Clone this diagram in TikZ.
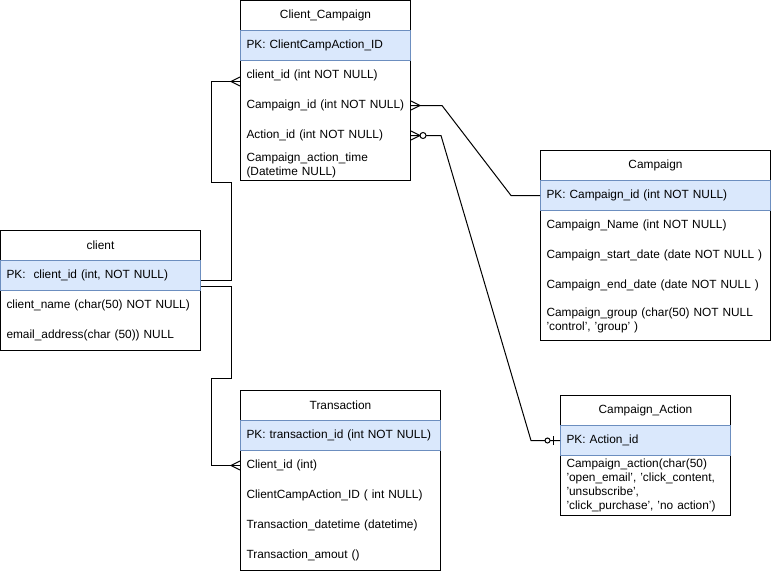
\documentclass[tikz,border=0pt]{standalone}
\usepackage{fontspec}
\setmainfont{Liberation Sans}
\usetikzlibrary{calc,positioning}
\definecolor{chiavefill}{RGB}{218,232,252}
\definecolor{chiaveline}{RGB}{108,142,191}

\begin{document}
\begin{tikzpicture}[x=0.75pt, y=-0.75pt, line width=0.75pt, font=\fontsize{8.9}{10.5}\selectfont,
  tabella/.style={draw, anchor=north west, inner sep=0pt},
  testa/.style={anchor=north west, minimum height=22.5pt, inner sep=0pt},
  riga/.style={anchor=north west, minimum height=22.5pt, inner sep=0pt, text width=#1, align=left,
    execute at begin node={\leftskip=4.5pt}},
  chiave/.style={riga=#1, draw=chiaveline, fill=chiavefill},
  crowmany/.pic={\draw (0,-4.5) -- (9,0) -- (0,4.5);},
  crowzeromany/.pic={\draw (0,-4.5) -- (9,0) -- (0,4.5); \draw[fill=white] (12,0) circle (3);},
  crowzeroone/.pic={\draw (7,-4.5) -- (7,4.5); \draw[fill=white] (12.5,0) circle (2.5);}]
\useasboundingbox (0,0) rectangle (771,571);

% client
\node[tabella, minimum width=150pt, minimum height=90pt] (client) at (0,230) {};
\node[testa, minimum width=150pt] (cliH) at (0,230) {client};
\node[chiave=150pt] (cliPK) at (0,260) {PK:~ client\_id (int, NOT NULL)};
\node[riga=150pt] (cliName) at (0,290) {client\_name (char(50) NOT NULL)};
\node[riga=150pt] (cliMail) at (0,320) {email\_address(char (50)) NULL};

% Client_Campaign
\node[tabella, minimum width=127.5pt, minimum height=135pt] (cc) at (240,0) {};
\node[testa, minimum width=127.5pt] (ccH) at (240,0) {Client\_Campaign};
\node[chiave=127.5pt] (ccPK) at (240,30) {PK: ClientCampAction\_ID};
\node[riga=127.5pt] (ccCli) at (240,60) {client\_id (int NOT NULL)};
\node[riga=127.5pt] (ccCamp) at (240,90) {Campaign\_id (int NOT NULL)};
\node[riga=127.5pt] (ccAct) at (240,120) {Action\_id (int NOT NULL)};
\node[riga=127.5pt] (ccTime) at (240,150) {Campaign\_action\_time\\(Datetime NULL)};

% Campaign
\node[tabella, minimum width=172.5pt, minimum height=142.5pt] (cp) at (540,150) {};
\node[testa, minimum width=172.5pt] (cpH) at (540,150) {Campaign};
\node[chiave=172.5pt] (cpPK) at (540,180) {PK: Campaign\_id (int NOT NULL)};
\node[riga=172.5pt] (cpName) at (540,210) {Campaign\_Name (int NOT NULL)};
\node[riga=172.5pt] (cpStart) at (540,240) {Campaign\_start\_date (date NOT NULL )};
\node[riga=172.5pt] (cpEnd) at (540,270) {Campaign\_end\_date (date NOT NULL )};
\node[riga=172.5pt, minimum height=30pt] (cpGroup) at (540,300) {Campaign\_group (char(50) NOT NULL\\'control', 'group' )};

% Transaction
\node[tabella, minimum width=150pt, minimum height=135pt] (tr) at (240,390) {};
\node[testa, minimum width=150pt] (trH) at (240,390) {Transaction};
\node[chiave=150pt] (trPK) at (240,420) {PK: transaction\_id (int NOT NULL)};
\node[riga=150pt] (trCli) at (240,450) {Client\_id (int)};
\node[riga=150pt] (trCca) at (240,480) {ClientCampAction\_ID ( int NULL)};
\node[riga=150pt] (trDate) at (240,510) {Transaction\_datetime (datetime)};
\node[riga=150pt] (trAmt) at (240,540) {Transaction\_amout ()};

% Campaign_Action
\node[tabella, minimum width=127.5pt, minimum height=90pt] (ca) at (560,395) {};
\node[testa, minimum width=127.5pt] (caH) at (560,395) {Campaign\_Action};
\node[chiave=127.5pt] (caPK) at (560,425) {PK: Action\_id};
\node[riga=127.5pt, minimum height=45pt] (caAct) at (560,455) {Campaign\_action(char(50)\\'open\_email', 'click\_content,\\'unsubscribe',\\'click\_purchase', 'no action')};

% relazioni
\draw ([yshift=-3.75pt]cliPK.east) -- ++(30,0) -- ++(0,-98) -- ++(-20,0) |- ([yshift=-4.5pt]ccCli.west);
\draw ([yshift=-8.25pt]cliPK.east) -- ++(30,0) -- ++(0,92) -- ++(-20,0) |- (trCli.west);
\draw (ccCamp.east) -- ++(31,0) -- ($(cpPK.west)+(-29,0)$) -- (cpPK.west);
\draw (ccAct.east) -- ++(30,0) -- ($(caPK.west)+(-29,0)$) -- (caPK.west);
\path ([yshift=-4.5pt]ccCli.west) pic[rotate=180] {crowmany};
\path (trCli.west) pic[rotate=180] {crowmany};
\path (ccCamp.east) pic {crowmany};
\path (ccAct.east) pic {crowzeromany};
\path (caPK.west) pic[rotate=180] {crowzeroone};
\end{tikzpicture}
\end{document}
